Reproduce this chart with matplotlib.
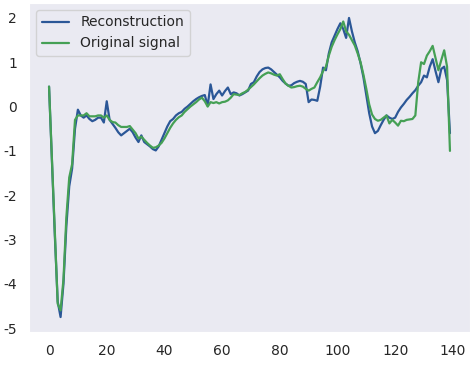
import numpy as np
import matplotlib
matplotlib.use("Agg")
import matplotlib.pyplot as plt
import seaborn as sns

# values (index 0..139)
reconstruction = [
    0.45, -1.2, -2.9, -4.4, -4.75, -4.0, -2.7, -1.8, -1.4, -0.5,
    -0.07, -0.2, -0.25, -0.2, -0.28, -0.33, -0.3, -0.25, -0.25, -0.36,
    0.12, -0.3, -0.39, -0.48, -0.58, -0.65, -0.6, -0.55, -0.5, -0.58,
    -0.7, -0.8, -0.65, -0.8, -0.85, -0.9, -0.96, -0.99, -0.9, -0.75,
    -0.6, -0.45, -0.33, -0.28, -0.2, -0.15, -0.12, -0.05, 0.0, 0.06,
    0.12, 0.17, 0.21, 0.24, 0.26, 0.02, 0.5, 0.17, 0.28, 0.36,
    0.25, 0.35, 0.43, 0.28, 0.32, 0.3, 0.25, 0.28, 0.32, 0.36,
    0.51, 0.55, 0.68, 0.78, 0.84, 0.87, 0.88, 0.84, 0.78, 0.72,
    0.66, 0.58, 0.52, 0.47, 0.48, 0.53, 0.56, 0.58, 0.56, 0.51,
    0.1, 0.16, 0.15, 0.13, 0.45, 0.88, 0.82, 1.2, 1.45, 1.6,
    1.75, 1.88, 1.75, 1.55, 2.0, 1.7, 1.45, 1.25, 0.98, 0.66,
    0.25, -0.15, -0.45, -0.6, -0.55, -0.42, -0.3, -0.2, -0.25, -0.28,
    -0.25, -0.12, -0.02, 0.06, 0.15, 0.22, 0.3, 0.37, 0.47, 0.55,
    0.7, 0.66, 0.9, 1.07, 0.8, 0.55, 0.85, 0.9, 0.6, -0.6,
]
original = [
    0.45, -1.2, -2.9, -4.45, -4.6, -3.9, -2.5, -1.6, -1.3, -0.3,
    -0.2, -0.2, -0.2, -0.15, -0.22, -0.22, -0.22, -0.2, -0.2, -0.25,
    -0.2, -0.3, -0.35, -0.36, -0.42, -0.46, -0.46, -0.46, -0.44, -0.52,
    -0.6, -0.72, -0.68, -0.75, -0.82, -0.88, -0.93, -0.92, -0.88, -0.82,
    -0.72, -0.6, -0.48, -0.38, -0.3, -0.24, -0.2, -0.12, -0.06, 0.0,
    0.05, 0.1, 0.16, 0.2, 0.12, 0.0, 0.1, 0.08, 0.1, 0.07,
    0.1, 0.11, 0.14, 0.2, 0.28, 0.27, 0.26, 0.3, 0.33, 0.38,
    0.44, 0.5, 0.57, 0.64, 0.7, 0.74, 0.77, 0.75, 0.72, 0.7,
    0.73, 0.62, 0.52, 0.47, 0.43, 0.44, 0.46, 0.47, 0.45, 0.4,
    0.36, 0.4, 0.43, 0.55, 0.66, 0.8, 0.9, 1.15, 1.35, 1.5,
    1.63, 1.75, 1.92, 1.7, 1.62, 1.5, 1.38, 1.2, 1.0, 0.72,
    0.4, 0.05, -0.18, -0.28, -0.32, -0.3, -0.25, -0.2, -0.38, -0.3,
    -0.36, -0.43, -0.32, -0.33, -0.3, -0.29, -0.28, -0.2, 0.55, 1.0,
    0.96, 1.15, 1.25, 1.37, 1.1, 0.82, 1.05, 1.27, 0.9, -1.0,
]
labels = ["Reconstruction", "Original signal"]

sns.set_style("dark")
plt.rcParams["font.family"] = ["DejaVu Sans"]
plt.rcParams["axes.unicode_minus"] = False

fig = plt.figure(figsize=(4.74, 3.70), dpi=100)
ax = fig.add_subplot(111)
fig.subplots_adjust(left=29/474, right=470/474, top=1-3/370, bottom=1-332/370)

ax.plot(reconstruction, color="#2b5797", lw=1.6, label=labels[0])
ax.plot(original, color="#45a055", lw=1.6, label=labels[1])

ax.tick_params(labelsize=10, colors="#262626", pad=5)
ax.legend(loc="upper left", fontsize=10)

plt.savefig("out.png", dpi=100)
